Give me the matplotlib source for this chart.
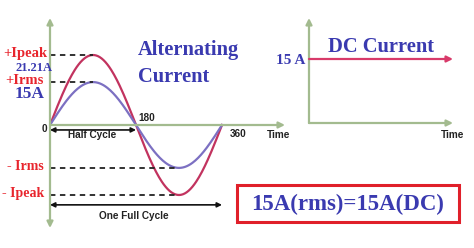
import numpy as np
import matplotlib.pyplot as plt

# data
deg = np.arange(0, 361, 2)
i_peak = 21.21       # +Ipeak
i_rms_drawn = 13.0   # amplitude of the rms-level sine as drawn
i_rms = 15           # rms / DC value
dc_t = [0, 1]
dc_i = [i_rms, i_rms]

W, H = 474, 248
RED_TXT = '#e8252d'
BLUE_TXT = '#3a3ab0'
RED_LINE = '#c2335f'
BLUE_LINE = '#7c70c2'
AX_COL = '#a3bb8f'
SERIF = 'Liberation Serif'
SANS = 'Liberation Sans'

fig = plt.figure(figsize=(W / 100, H / 100), dpi=100)


def box(l, t, r, b):
    # pixel box (from top-left) -> figure rect
    return [l / W, 1 - b / H, (r - l) / W, (b - t) / H]


def ftext(x, y, s, **kw):
    fig.text(x / W, 1 - y / H, s, **kw)


# ---------------- AC plot ----------------
ax = fig.add_axes(box(50, 18, 285, 228))
ax.set_xlim(0, 235 / (172 / 360))
ax.set_ylim(-103 / 3.3, 107 / 3.3)
ax.axis('off')

ax.plot(deg, i_peak * np.sin(np.radians(deg)), color=RED_LINE, lw=1.6)
ax.plot(deg, i_rms_drawn * np.sin(np.radians(deg)), color=BLUE_LINE, lw=1.6)

# axes with arrows
arr = dict(arrowstyle='-|>', color=AX_COL, lw=1.6, mutation_scale=9,
           shrinkA=0, shrinkB=0)
xmax = ax.get_xlim()[1]
y0, y1 = ax.get_ylim()
ax.annotate('', xy=(xmax, 0), xytext=(0, 0), arrowprops=arr, annotation_clip=False)
ax.annotate('', xy=(0, y1), xytext=(0, 0), arrowprops=arr, annotation_clip=False)
ax.annotate('', xy=(0, y0), xytext=(0, 0), arrowprops=arr, annotation_clip=False)

# dashed level lines
dash = dict(color='#222222', lw=1.3, ls=(0, (3, 2.5)))
ax.plot([0, 90], [i_peak, i_peak], **dash)
ax.plot([0, 90], [i_rms_drawn, i_rms_drawn], **dash)
ax.plot([0, 270], [-i_rms_drawn, -i_rms_drawn], **dash)
ax.plot([0, 270], [-i_peak, -i_peak], **dash)

# cycle arrows
darr = dict(arrowstyle='<|-|>', color='#111111', lw=1.2, mutation_scale=7,
            shrinkA=0, shrinkB=0)
ax.annotate('', xy=(180, -1.5), xytext=(0, -1.5), arrowprops=darr)
ax.annotate('', xy=(360, -24.2), xytext=(0, -24.2), arrowprops=darr)

# labels
sans = dict(family=SANS, weight='bold', fontsize=7.2, color='#222222',
            va='center')
ftext(44, 129, '0', ha='center', **sans)
ftext(147, 118, '180', ha='center', **sans)
ftext(238, 134, '360', ha='center', **sans)
ftext(279, 135, 'Time', ha='center', **sans)
ftext(92, 135, 'Half Cycle', ha='center', **sans)
ftext(134, 216, 'One Full Cycle', ha='center', **sans)

serif_r = dict(family=SERIF, weight='bold', color=RED_TXT, va='center',
               ha='right')
ftext(47, 53, '+Ipeak', fontsize=10.5, **serif_r)
ftext(52, 68, '21.21A', fontsize=9, family=SERIF, weight='bold',
      color=BLUE_TXT, va='center', ha='right')
ftext(44, 81, '+Irms', fontsize=10.5, **serif_r)
ftext(44, 94, '15A', fontsize=12.5, family=SERIF, weight='bold',
      color=BLUE_TXT, va='center', ha='right')
ftext(44, 166, '- Irms', fontsize=10, **serif_r)
ftext(44, 193, '- Ipeak', fontsize=10, **serif_r)

ftext(138, 50, 'Alternating', fontsize=14.8, family=SERIF, weight='bold',
      color=BLUE_TXT, va='center', ha='left')
ftext(138, 77, 'Current', fontsize=14.8, family=SERIF, weight='bold',
      color=BLUE_TXT, va='center', ha='left')

# ---------------- DC plot ----------------
ax2 = fig.add_axes(box(309, 18, 453, 123))
ax2.set_xlim(0, 1)
ax2.set_ylim(0, 105 / 64 * i_rms)
ax2.axis('off')
ymax2 = ax2.get_ylim()[1]
ax2.annotate('', xy=(1, 0), xytext=(0, 0), arrowprops=arr, annotation_clip=False)
ax2.annotate('', xy=(0, ymax2), xytext=(0, 0), arrowprops=arr, annotation_clip=False)
ax2.annotate('', xy=(dc_t[1], dc_i[1]), xytext=(dc_t[0], dc_i[0]),
             arrowprops=dict(arrowstyle='-|>', color='#d83a6a', lw=1.6,
                             mutation_scale=9, shrinkA=0, shrinkB=0),
             annotation_clip=False)

ftext(305, 60, '15 A', fontsize=11, family=SERIF, weight='bold',
      color=BLUE_TXT, va='center', ha='right')
ftext(381, 47, 'DC Current', fontsize=14.8, family=SERIF, weight='bold',
      color=BLUE_TXT, va='center', ha='center')
ftext(453, 135, 'Time', ha='center', **sans)

# ---------------- equality box ----------------
ftext(348, 204, '15A(rms)=15A(DC)', fontsize=16.5, family=SERIF, weight='bold',
      color=BLUE_TXT, va='center', ha='center')
fig.patches.append(plt.Rectangle((237 / W, 1 - 222 / H), 222 / W, 37 / H,
                                 transform=fig.transFigure, fill=False,
                                 ec='#e0202a', lw=2.2))

fig.savefig('out.png', dpi=100)
